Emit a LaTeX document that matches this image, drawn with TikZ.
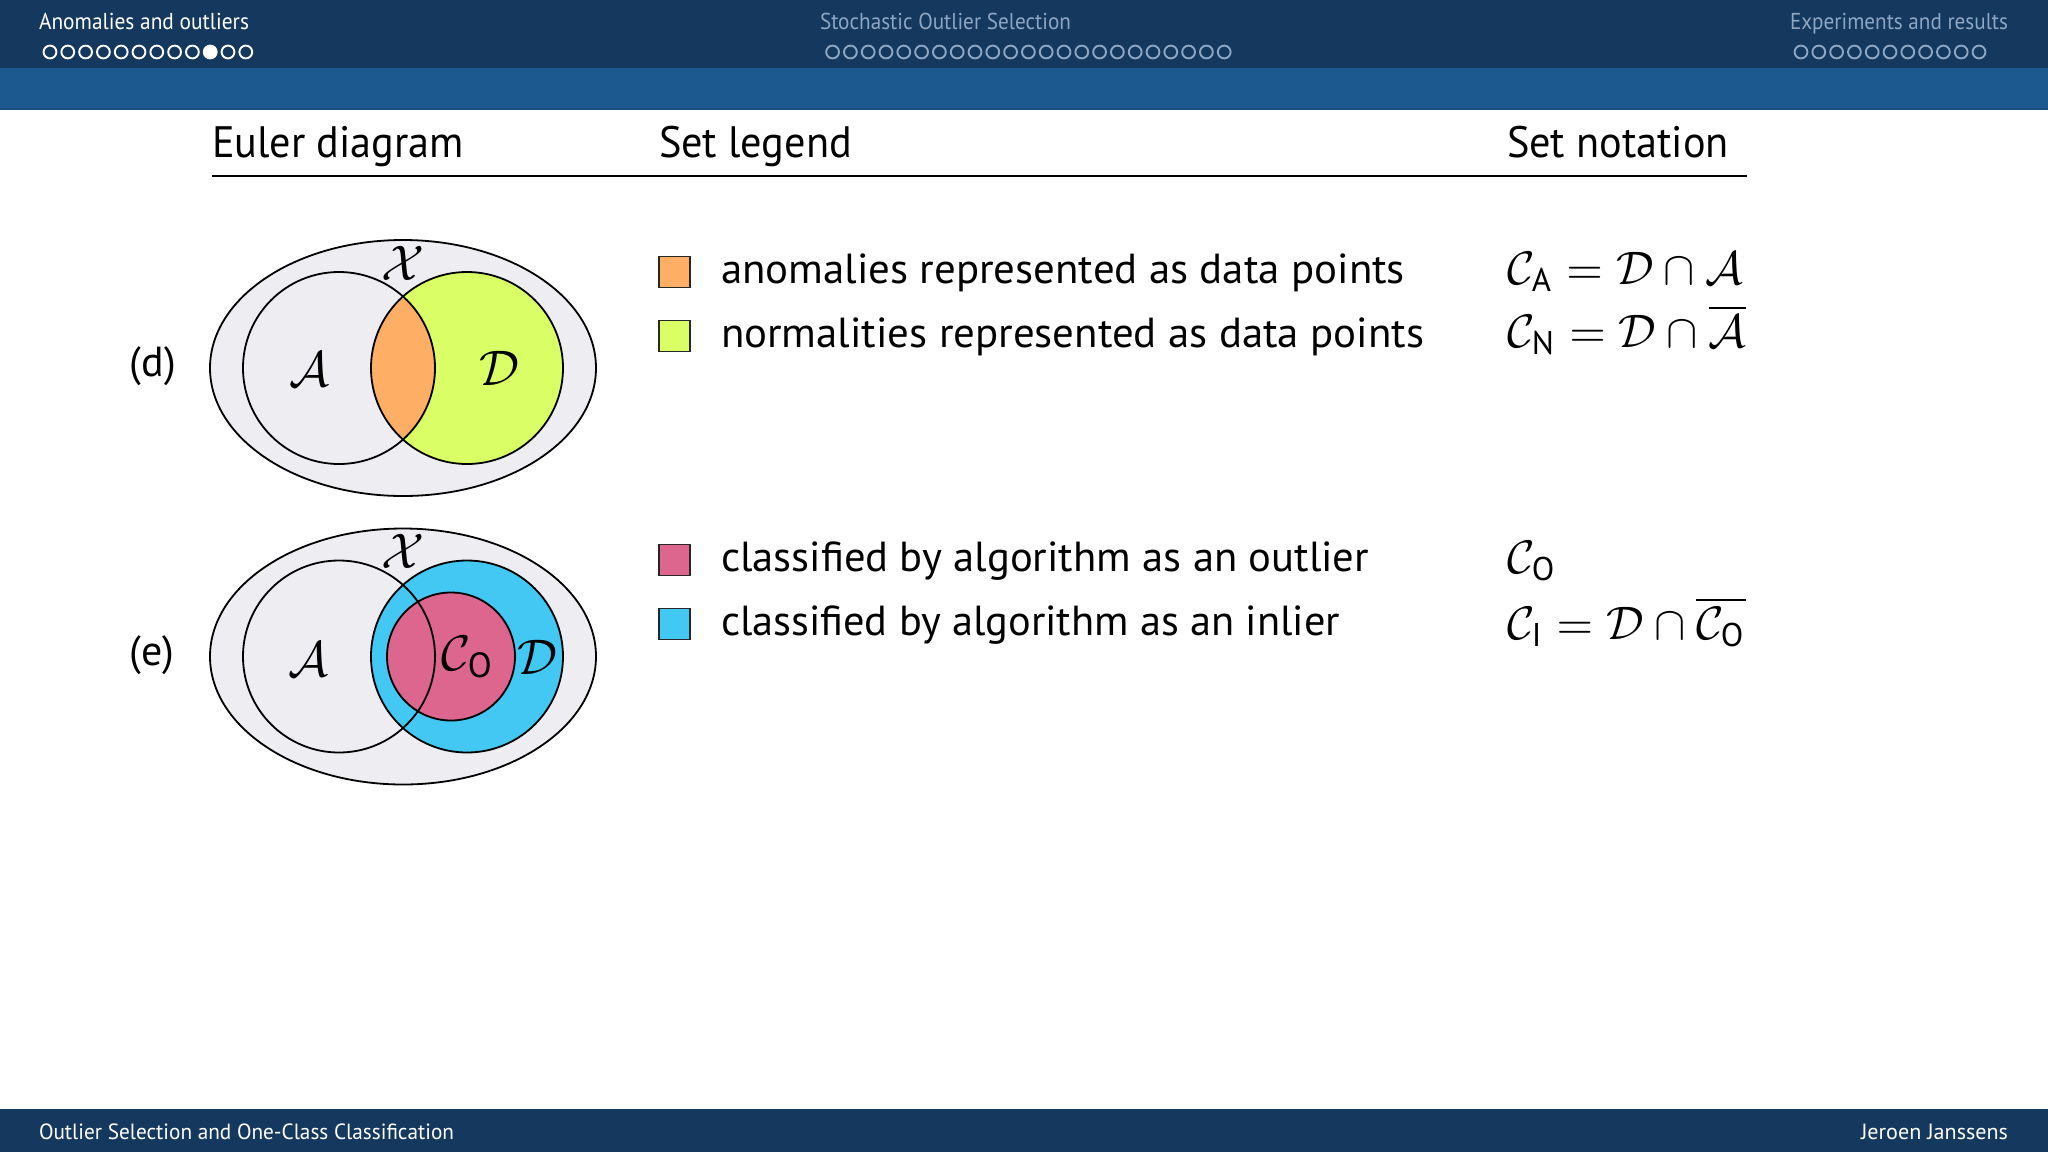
\documentclass[tikz,border=0pt]{standalone}
\usepackage{amsmath}
\usepackage{fontspec}
\setmainfont{PT Sans}
\usepackage{graphicx}
\definecolor{navy}{RGB}{21,56,94}
\definecolor{band}{RGB}{28,89,142}
\definecolor{bandline}{RGB}{24,78,128}
\definecolor{inact}{RGB}{141,166,195}
\definecolor{setgray}{RGB}{238,238,242}
\definecolor{limeC}{RGB}{218,255,102}
\definecolor{orangeC}{RGB}{255,174,102}
\definecolor{pinkC}{RGB}{221,102,143}
\definecolor{cyanC}{RGB}{66,200,242}
\newcommand{\fitw}[2]{\resizebox{#1}{\height}{#2}}
\newcommand{\mymath}[2]{\scalebox{#1}{$#2$}}
\tikzset{
  txt/.style={inner sep=0pt, outer sep=0pt, anchor=base west},
  toptitle/.style={txt, font=\fontsize{23}{27}\selectfont},
  foot/.style={txt, font=\fontsize{22}{26}\selectfont, text=white},
  head/.style={txt, font=\fontsize{44}{50}\selectfont},
  body/.style={txt, font=\fontsize{42}{48}\selectfont},
  eq/.style={txt, font=\fontsize{10}{12}\selectfont},
  lbl/.style={inner sep=0pt, outer sep=0pt, font=\fontsize{10}{12}\selectfont},
  tag/.style={inner sep=0pt, outer sep=0pt, font=\fontsize{42}{48}\selectfont},
  setline/.style={draw=black, line width=1.8pt},
  swatch/.style={draw=black!85, line width=1.6pt, minimum size=31pt, inner sep=0pt},
  navdot/.style={line width=1.9pt},
}
\begin{document}
\begin{tikzpicture}[x=1pt, y=-1pt]
\useasboundingbox (0,0) rectangle (2048,1152);
\fill[white] (0,0) rectangle (2048,1152);
% header
\fill[navy] (0,0) rectangle (2048,68);
\fill[band] (0,68) rectangle (2048,110);
\draw[bandline, line width=1.5pt] (0,109) -- (2048,109);
\node[toptitle, text=white] (sec1) at (39,29) {\fitw{210pt}{Anomalies and outliers}};
\node[toptitle, text=inact] (sec2) at (820,29) {\fitw{251pt}{Stochastic Outlier Selection}};
\node[toptitle, text=inact] (sec3) at (1790,29) {\fitw{218pt}{Experiments and results}};
\foreach \i in {0,...,11} {
  \ifnum\i=9
    \fill[white] ({50+17.8*\i},52) circle[radius=7.4pt];
  \else
    \draw[white, navdot] ({50+17.8*\i},52) circle[radius=6.4pt];
  \fi
}
\foreach \i in {0,...,22} {
  \draw[inact, navdot] ({832.6+17.8*\i},52) circle[radius=6.4pt];
}
\foreach \i in {0,...,10} {
  \draw[inact, navdot] ({1801+17.8*\i},52) circle[radius=6.4pt];
}
% footer
\fill[navy] (0,1109) rectangle (2048,1152);
\node[foot] (ft1) at (39,1139) {\fitw{415pt}{Outlier Selection and One-Class Classification}};
\node[foot] (ft2) at (1861,1139) {\fitw{147pt}{Jeroen Janssens}};
% headings
\node[head] (h1) at (212,157) {\fitw{252pt}{Euler diagram}};
\node[head] (h2) at (659,157) {\fitw{193pt}{Set legend}};
\node[head] (h3) at (1507,157) {\fitw{222pt}{Set notation}};
\draw[black, line width=2pt] (212,176) -- (1747,176);
% Euler diagram (d)
\fill[setgray] (403,368) ellipse[x radius=193pt, y radius=128pt];
\fill[limeC] (467,368) circle[radius=96pt];
\begin{scope}
  \clip (339,368) circle[radius=96pt];
  \fill[orangeC] (467,368) circle[radius=96pt];
\end{scope}
\draw[setline] (403,368) ellipse[x radius=193pt, y radius=128pt];
\draw[setline] (339,368) circle[radius=96pt];
\draw[setline] (467,368) circle[radius=96pt];
\node[tag] (tagd) at (153,366) {(d)};
\node[lbl] (dX) at (403,263) {\mymath{5}{\mathcal{X}}};
\node[lbl] (dA) at (309,369) {\mymath{5}{\mathcal{A}}};
\node[lbl] (dD) at (499,368) {\mymath{5}{\mathcal{D}}};
% Euler diagram (e)
\fill[setgray] (403,656.5) ellipse[x radius=193pt, y radius=128pt];
\fill[cyanC] (467,656.5) circle[radius=96pt];
\fill[pinkC] (451,656.5) circle[radius=64pt];
\draw[setline] (403,656.5) ellipse[x radius=193pt, y radius=128pt];
\draw[setline] (339,656.5) circle[radius=96pt];
\draw[setline] (467,656.5) circle[radius=96pt];
\draw[setline] (451,656.5) circle[radius=64pt];
\node[tag] (tage) at (152,655) {(e)};
\node[lbl] (eX) at (403,551) {\mymath{5}{\mathcal{X}}};
\node[lbl] (eA) at (308,659) {\mymath{5}{\mathcal{A}}};
\node[lbl] (eC) at (468,657) {\mymath{5}{\mathcal{C}_{\text{O}}}};
\node[lbl] (eD) at (537,657) {\mymath{5}{\mathcal{D}}};
% legend
\node[swatch, fill=orangeC] (s1) at (674.5,272) {};
\node[swatch, fill=limeC] (s2) at (674.5,336) {};
\node[swatch, fill=pinkC] (s3) at (674.5,560) {};
\node[swatch, fill=cyanC] (s4) at (674.5,624) {};
\node[body] (l1) at (721,283) {\fitw{684pt}{anomalies represented as data points}};
\node[body] (l2) at (721,347) {\fitw{703pt}{normalities represented as data points}};
\node[body] (l3) at (721,571) {\fitw{648pt}{classified by algorithm as an outlier}};
\node[body] (l4) at (721,635) {\fitw{619pt}{classified by algorithm as an inlier}};
% set notation
\node[eq] (n1) at (1507,284) {\mymath{4.7}{\mathcal{C}_{\text{A}} = \mathcal{D} \cap \mathcal{A}}};
\node[eq] (n2) at (1507,347) {\mymath{4.7}{\mathcal{C}_{\text{N}} = \mathcal{D} \cap \overline{\mathcal{A}}}};
\node[eq] (n3) at (1507,573) {\mymath{4.7}{\mathcal{C}_{\text{O}}}};
\node[eq] (n4) at (1507,639) {\mymath{4.7}{\mathcal{C}_{\text{I}} = \mathcal{D} \cap \overline{\mathcal{C}_{\text{O}}}}};
\end{tikzpicture}
\end{document}
